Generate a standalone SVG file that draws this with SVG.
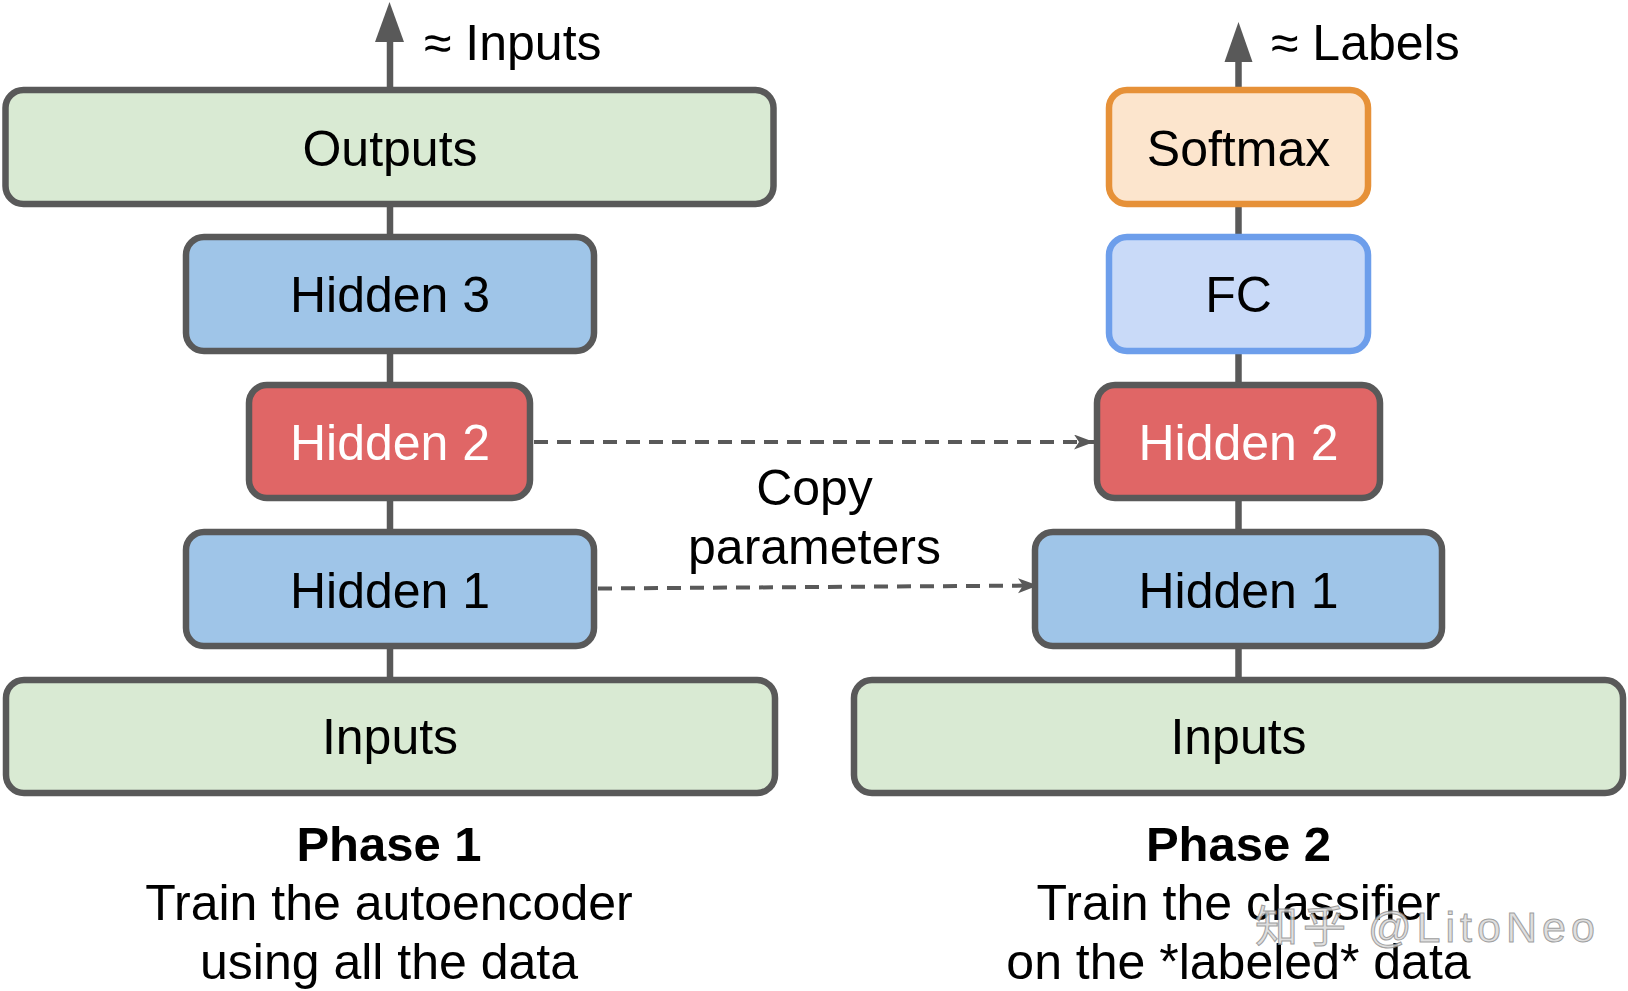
<svg xmlns="http://www.w3.org/2000/svg" width="1628" height="991" viewBox="0 0 1628 991">
<style>
.box{stroke:#595959;stroke-width:6.5}
.green{fill:#d9ead3}
.blue{fill:#9fc5e8}
.red{fill:#e06666}
.soft{fill:#fce5cd;stroke:#e69138;stroke-width:6.5}
.fc{fill:#c9daf8;stroke:#6d9eeb;stroke-width:6.5}
text{font-family:"Liberation Sans",Arial,sans-serif;font-size:50px;fill:#000}
.c{text-anchor:middle}
.w{fill:#fff}
.b{font-weight:bold;font-size:49px}
.conn{stroke:#595959;stroke-width:6.5;fill:none}
.dash{stroke:#595959;stroke-width:4;fill:none;stroke-dasharray:14 9}
.wm{font-family:"Liberation Sans","Noto Sans CJK SC",sans-serif;font-size:43px;fill:#dadada;stroke:#8f8f8f;stroke-width:1;letter-spacing:5px;opacity:0.85}
</style>
<defs>
<marker id="chev" markerUnits="userSpaceOnUse" markerWidth="22" markerHeight="16" refX="20" refY="7.5" orient="auto" viewBox="0 0 22 16">
<path d="M0,0 L20,7.5 L0,15 L5,7.5 Z" fill="#595959"/>
</marker>
</defs>
<g id="connectors">
<line class="conn" x1="390" y1="90" x2="390" y2="38"/>
<polygon points="375,42 389.5,2 404,42" fill="#595959"/>
<line class="conn" x1="390" y1="204" x2="390" y2="237"/>
<line class="conn" x1="390" y1="351" x2="390" y2="385"/>
<line class="conn" x1="390" y1="498" x2="390" y2="532"/>
<line class="conn" x1="390" y1="646" x2="390" y2="680"/>
<line class="conn" x1="1238.5" y1="90" x2="1238.5" y2="58"/>
<polygon points="1224.5,62 1238.5,22 1252.5,62" fill="#595959"/>
<line class="conn" x1="1238.5" y1="204" x2="1238.5" y2="237"/>
<line class="conn" x1="1238.5" y1="351" x2="1238.5" y2="385"/>
<line class="conn" x1="1238.5" y1="498" x2="1238.5" y2="532"/>
<line class="conn" x1="1238.5" y1="646" x2="1238.5" y2="680"/>
<line class="dash" x1="534" y1="442" x2="1094" y2="442" marker-end="url(#chev)"/>
<line class="dash" x1="598" y1="588.5" x2="1038" y2="585.5" marker-end="url(#chev)"/>
</g>
<g id="p1-outputs"><rect class="box green" x="5.5" y="90" width="768" height="114" rx="18"/><text class="c" x="390" y="166">Outputs</text></g>
<g id="p1-hidden3"><rect class="box blue" x="186" y="237" width="408" height="114" rx="18"/><text class="c" x="390" y="312">Hidden 3</text></g>
<g id="p1-hidden2"><rect class="box red" x="249" y="385" width="281" height="113" rx="18"/><text class="c w" x="390" y="460">Hidden 2</text></g>
<g id="p1-hidden1"><rect class="box blue" x="186" y="532" width="408" height="114" rx="18"/><text class="c" x="390" y="608">Hidden 1</text></g>
<g id="p1-inputs"><rect class="box green" x="6" y="680" width="769" height="113" rx="18"/><text class="c" x="390" y="754">Inputs</text></g>
<g id="p2-softmax"><rect class="soft" x="1109" y="90" width="259" height="114" rx="18"/><text class="c" x="1238.5" y="166">Softmax</text></g>
<g id="p2-fc"><rect class="fc" x="1109" y="237" width="259" height="114" rx="18"/><text class="c" x="1238.5" y="312">FC</text></g>
<g id="p2-hidden2"><rect class="box red" x="1097" y="385" width="283" height="113" rx="18"/><text class="c w" x="1238.5" y="460">Hidden 2</text></g>
<g id="p2-hidden1"><rect class="box blue" x="1035" y="532" width="407" height="114" rx="18"/><text class="c" x="1238.5" y="608">Hidden 1</text></g>
<g id="p2-inputs"><rect class="box green" x="854" y="680" width="769" height="113" rx="18"/><text class="c" x="1238.5" y="754">Inputs</text></g>
<g id="labels">
<text x="424" y="60">≈ Inputs</text>
<text x="1271" y="60">≈ Labels</text>
<text class="c" x="814.5" y="505">Copy</text>
<text class="c" x="814.5" y="564">parameters</text>
<text class="c b" x="389" y="861">Phase 1</text>
<text class="c" x="389" y="920">Train the autoencoder</text>
<text class="c" x="389" y="979">using all the data</text>
<text class="c b" x="1238.5" y="861">Phase 2</text>
<text class="c" x="1238.5" y="920">Train the classifier</text>
<text class="c" x="1238.5" y="979">on the *labeled* data</text>
<text class="wm" x="1255" y="942">知乎 @LitoNeo</text>
</g>
</svg>
